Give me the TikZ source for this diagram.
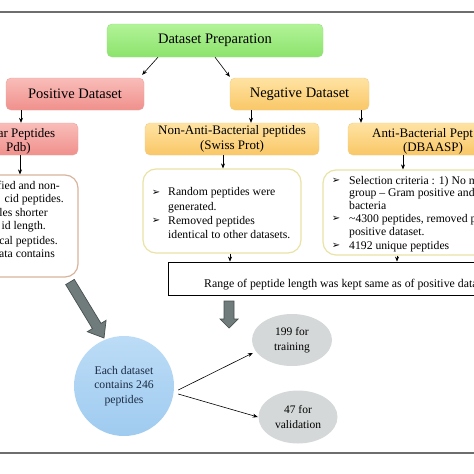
\documentclass[tikz,border=0pt]{standalone}
\usepackage{fontspec}
\setmainfont{Liberation Serif}
\newfontfamily\dejavu{DejaVu Sans}
\usetikzlibrary{calc,arrows.meta,shapes.geometric}
\definecolor{gtop}{HTML}{B2F398}
\definecolor{gbot}{HTML}{8CE36C}
\definecolor{gedge}{HTML}{9BDD80}
\definecolor{ptop}{HTML}{F9BDB9}
\definecolor{pbot}{HTML}{F0908C}
\definecolor{pedge}{HTML}{EBA19D}
\definecolor{otop}{HTML}{FFE3A3}
\definecolor{obot}{HTML}{F9C766}
\definecolor{oedge}{HTML}{F0CD88}
\definecolor{ctop}{HTML}{BCDCF6}
\definecolor{cbot}{HTML}{9FCBF0}
\definecolor{egray}{HTML}{D5D8D8}
\definecolor{tanedge}{HTML}{D9B49C}
\definecolor{yeledge}{HTML}{E9E3A6}
\definecolor{fatgray}{HTML}{707B7B}
\definecolor{fatedge}{HTML}{475050}
\definecolor{rule}{HTML}{6E6E6E}
\definecolor{navy}{HTML}{1C2B45}
\begin{document}
\begin{tikzpicture}[x=1pt,y=-1pt,
  box/.style={rounded corners=5pt, minimum height=32pt, inner sep=0pt, align=center, line width=0.4pt},
  greenbox/.style={box, top color=gtop, bottom color=gbot, draw=gedge},
  pinkbox/.style={box, top color=ptop, bottom color=pbot, draw=pedge},
  orangebox/.style={box, top color=otop, bottom color=obot, draw=oedge},
  detail/.style={rounded corners=13pt, fill=white, line width=1.2pt, inner sep=0pt},
  ttl/.style={font=\fontsize{14.5}{17}\selectfont},
  sub/.style={font=\fontsize{13}{14.5}\selectfont},
  txt/.style={font=\fontsize{11.7}{14}\selectfont, inner sep=0pt},
  bul/.style={font=\dejavu\fontsize{10}{11}\selectfont, inner sep=0pt},
  arr/.style={-{Stealth[length=5pt,width=4pt]}, line width=0.6pt, black},
  fat/.style={fill=fatgray, draw=fatedge, line width=0.7pt},
  ovl/.style={ellipse, fill=egray, inner sep=0pt, align=center, font=\fontsize{11.5}{14.5}\selectfont}
]
\useasboundingbox (0,0) rectangle (474,474);
\clip (0,0) rectangle (474,474);
\fill[white] (0,0) rectangle (474,474);

% frame lines
\coordinate (tl) at (0,12);
\coordinate (tr) at (474,12);
\coordinate (bl) at (0,453);
\coordinate (br) at (474,453);
\draw[rule, line width=1.2pt] (tl) -- (tr);
\draw[rule, line width=1.2pt] (bl) -- (br);

% level 1-2
\node[greenbox, ttl, minimum width=216pt, minimum height=33pt] (prep) at (215,40.5) {Dataset Preparation};
\node[pinkbox, ttl, minimum width=138pt] (pos) at (75,94) {Positive Dataset};
\node[orangebox, ttl, minimum width=139pt] (neg) at (299.5,94) {Negative Dataset};

% level 3
\node[pinkbox, minimum width=125pt] (posPep) at (15.5,139) {};
\node[sub, inner sep=0pt, anchor=base east] (posPepA) at (55.5,137.5) {ar Peptides};
\node[sub, inner sep=0pt, anchor=base east] (posPepB) at (31,151.5) {Pdb)};
\node[orangebox, sub, minimum width=174pt] (nonAnti) at (232,139) {Non-Anti-Bacterial peptides\\(Swiss Prot)};
\node[orangebox, minimum width=180pt] (antiB) at (438,139) {};
\node[sub, inner sep=0pt, anchor=base west] (antiBA) at (372,137.5) {Anti-Bacterial Pept};
\node[sub, inner sep=0pt, anchor=base] (antiBB) at (433,151.5) {(DBAASP)};

% detail boxes
\node[detail, draw=tanedge, minimum width=138pt, minimum height=102pt] (posDet) at (9,226) {};
\node[txt, anchor=base east] (p1) at (60,189) {fied and non-};
\node[txt, anchor=base east] (p2) at (64,202.5) {cid peptides.};
\node[txt, anchor=base east] (p3) at (48,216) {les shorter};
\node[txt, anchor=base east] (p4) at (46,229.5) {id length.};
\node[txt, anchor=base east] (p5) at (58,244) {cal peptides.};
\node[txt, anchor=base east] (p6) at (55,257.5) {ata contains};

\node[detail, draw=yeledge, minimum width=158pt, minimum height=84pt] (nonDet) at (222,211) {};
\node[bul, anchor=base] (nb1) at (156,195) {➢};
\node[txt, anchor=base west] (n1) at (168,195.5) {Random peptides were};
\node[txt, anchor=base west] (n2) at (168,210.5) {generated.};
\node[bul, anchor=base] (nb2) at (156,223.5) {➢};
\node[txt, anchor=base west] (n3) at (168,224) {Removed peptides};
\node[txt, anchor=base west] (n4) at (168,238) {identical to other datasets.};

\node[detail, draw=yeledge, minimum width=207pt, minimum height=85pt] (antiDet) at (426.5,212.5) {};
\node[bul, anchor=base] (ab1) at (336,183.5) {➢};
\node[txt, anchor=base west] (a1) at (349,184) {Selection criteria : 1) No mo};
\node[txt, anchor=base west] (a2) at (349,196.5) {group – Gram positive and G};
\node[txt, anchor=base west] (a3) at (349,209) {bacteria};
\node[bul, anchor=base] (ab2) at (336,221.5) {➢};
\node[txt, anchor=base west] (a4) at (349,222) {\textasciitilde4300 peptides, removed pe};
\node[txt, anchor=base west] (a5) at (349,235) {positive dataset.};
\node[bul, anchor=base] (ab3) at (336,248.5) {➢};
\node[txt, anchor=base west] (a6) at (349,249) {4192 unique peptides};

% range box
\node[draw=black, fill=white, line width=0.8pt, minimum width=362pt, minimum height=33pt, inner sep=0pt] (range) at (349,278.5) {};
\node[txt, font=\fontsize{11.8}{13}\selectfont, anchor=base west] (rangeT) at (204,287) {Range of peptide length was kept same as of positive data};

% bottom part
\node[circle, top color=ctop, bottom color=cbot, minimum size=100pt, inner sep=0pt, align=center, text=navy, font=\fontsize{11.7}{14.5}\selectfont] (circ) at (124,386) {Each dataset\\contains 246\\peptides};
\node[ovl, minimum width=80pt, minimum height=52pt] (ell1) at (292,340) {199 for\\training};
\node[ovl, minimum width=79pt, minimum height=53pt] (ell2) at (298,417) {47 for\\validation};

% fat arrows
\draw[fat] (74.3,279.4) -- (101.0,323.4) -- (106.1,320.3) -- (104,338) -- (87.3,331.7) -- (92.4,328.6) -- (65.7,284.6) -- cycle;
\draw[fat] (224,301) -- (234,301) -- (234,319) -- (238,319) -- (229,328) -- (220,319) -- (224,319) -- cycle;

% connectors
\draw[arr] ([xshift=-57pt]prep.south) -- ($(pos.north east)+(-2,-3)$);
\draw[arr] (prep.south) -- ($(neg.north west)+(0,-1)$);
\draw[arr] ([xshift=-54pt]pos.south) -- ([xshift=5.5pt]posPep.north);
\draw[arr] ([xshift=4.5pt]posPep.south) -- ([xshift=11pt]posDet.north);
\draw[arr] ([xshift=-48.5pt]neg.south) -- ([xshift=19pt]nonAnti.north);
\draw[arr] ([xshift=61.5pt]neg.south) -- ([xshift=-77pt]antiB.north);
\draw[arr] ([xshift=-9pt]nonAnti.south) -- ([xshift=1pt]nonDet.north);
\draw[arr] ([xshift=-35pt]antiB.south) -- ([xshift=-23.5pt]antiDet.north);
\draw[arr] ([xshift=8pt]nonDet.south) -- ([xshift=-119pt]range.north);
\draw[arr] ([xshift=-29.5pt]antiDet.south) -- ([xshift=48pt]range.north);
\draw[arr] ($(circ.east)+(4,4)$) -- ($(ell1.west)+(1,13)$);
\draw[arr] ($(circ.east)+(4,8)$) -- ($(ell2.west)+(-0.5,0)$);
\end{tikzpicture}
\end{document}
